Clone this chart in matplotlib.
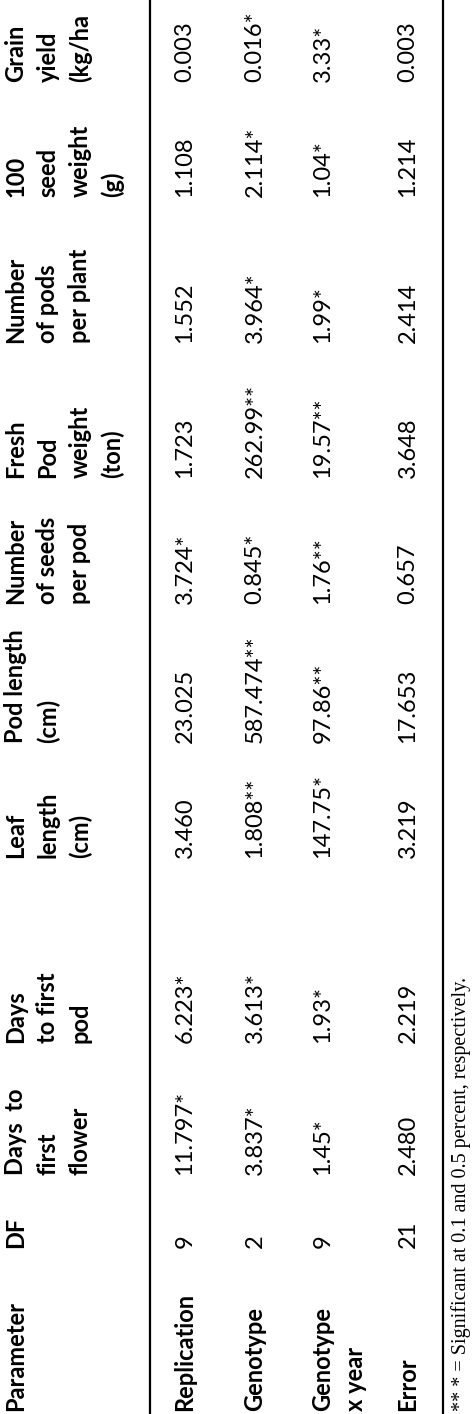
import matplotlib
matplotlib.use("Agg")
import matplotlib.pyplot as plt

headers = [
    ["Parameter"],
    ["DF"],
    ["Days  to", "first", "flower"],
    ["Days", "to first", "pod"],
    ["Leaf", "length", "(cm)"],
    ["Pod length", "(cm)"],
    ["Number", "of seeds", "per pod"],
    ["Fresh", "Pod", "weight", "(ton)"],
    ["Number", "of pods", "per plant"],
    ["100", "seed", "weight", "(g)"],
    ["Grain", "yield", "(kg/ha"],
]
params = [["Replication"], ["Genotype"], ["Genotype", "x year"], ["Error"]]
df = ["9", "2", "9", "21"]
days_flower = ["11.797*", "3.837*", "1.45*", "2.480"]
days_pod = ["6.223*", "3.613*", "1.93*", "2.219"]
leaf_len = ["3.460", "1.808**", "147.75*", "3.219"]
pod_len = ["23.025", "587.474**", "97.86**", "17.653"]
seeds_pod = ["3.724*", "0.845*", "1.76**", "0.657"]
fresh_pod = ["1.723", "262.99**", "19.57**", "3.648"]
pods_plant = ["1.552", "3.964*", "1.99*", "2.414"]
seed_wt = ["1.108", "2.114*", "1.04*", "1.214"]
grain = ["0.003", "0.016*", "3.33*", "0.003"]
footnote = "** * = Significant at 0.1 and 0.5 percent, respectively."

cols = [df, days_flower, days_pod, leaf_len, pod_len, seeds_pod, fresh_pod,
        pods_plant, seed_wt, grain]

col_start = [1411, 1248, 1175, 1043, 858, 743, 604, 478, 343, 197, 82]
head_x = [16, 48, 80, 112]
row_x = [185, 255, 323, 408]
sub_dx = 33

fig = plt.figure(figsize=(4.74, 14.14), dpi=100)
ax = fig.add_axes([0, 0, 1, 1])
ax.set_xlim(0, 474)
ax.set_ylim(1414, 0)
ax.axis("off")

font = "Lato"
fs = 17
for j, hdr in enumerate(headers):
    for k, line in enumerate(hdr):
        ax.text(head_x[k], col_start[j], line, rotation=90, ha="center", va="bottom",
                fontsize=fs, fontweight="bold", family=font)

for i, p in enumerate(params):
    for k, line in enumerate(p):
        ax.text(row_x[i] + k * sub_dx, col_start[0], line, rotation=90, ha="center",
                va="bottom", fontsize=fs, fontweight="bold", family=font)
    for j, c in enumerate(cols):
        ax.text(row_x[i], col_start[j + 1], c[i], rotation=90, ha="center", va="bottom",
                fontsize=fs, family=font)

ax.plot([150, 150], [0, 1414], color="black", lw=1.6)
ax.plot([443, 443], [0, 1414], color="black", lw=1.6)

ax.text(461, 1411, footnote, rotation=90, ha="center", va="bottom", fontsize=14.5,
        family="Liberation Serif")

fig.savefig("out.png", dpi=100)
